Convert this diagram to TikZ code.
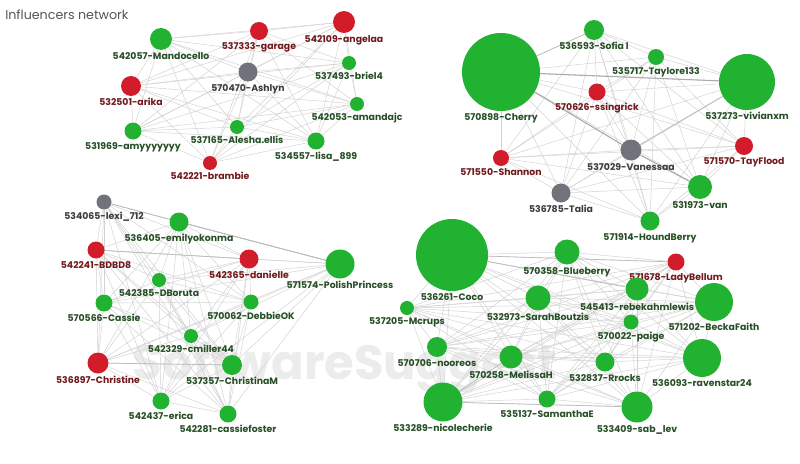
\documentclass[tikz,border=0pt]{standalone}
\usepackage{fontspec}
\setmainfont{Poppins}
\usetikzlibrary{backgrounds}
\definecolor{ngreen}{RGB}{33,178,50}
\definecolor{nred}{RGB}{210,28,42}
\definecolor{ngray}{RGB}{112,116,122}
\definecolor{tgreen}{RGB}{38,78,38}
\definecolor{tred}{RGB}{112,24,28}
\definecolor{tgray}{RGB}{58,60,64}
\definecolor{edgec}{RGB}{210,210,210}
\definecolor{edgedark}{RGB}{170,170,170}
\definecolor{titlec}{RGB}{85,85,85}
\definecolor{wmc}{RGB}{236,236,236}
\tikzset{
  vtx/.style={circle, inner sep=0pt, minimum size={1.5pt*#1}},
  gv/.style={vtx=#1, fill=ngreen},
  rv/.style={vtx=#1, fill=nred},
  kv/.style={vtx=#1, fill=ngray},
  lbl/.style={font=\fontsize{7}{8}\selectfont\bfseries, inner sep=0pt, text height=5pt, text depth=1.3pt},
  gl/.style={label={[lbl,text=tgreen,label distance=2pt]below:#1}},
  rl/.style={label={[lbl,text=tred,label distance=2pt]below:#1}},
  kl/.style={label={[lbl,text=tgray,label distance=2pt]below:#1}},
  edge/.style={draw=edgec, line width=0.35pt},
  strong/.style={draw=edgedark, line width=0.8pt},
  mid/.style={draw=edgedark!80!white, line width=0.5pt},
}
\newcommand\mkclique[1]{%
  \foreach \a [count=\i] in {#1}{%
    \foreach \b [count=\j] in {#1}{%
      \ifnum\j>\i \draw[edge] (\a) -- (\b);\fi
    }%
  }%
}
\begin{document}
\begin{tikzpicture}[x=0.75pt,y=-0.75pt]
\useasboundingbox (0,0) rectangle (800,464);
% title
\node[anchor=west, inner sep=0pt, text=titlec, font=\fontsize{9.5}{10}\selectfont] (title) at (5,15) {Influencers network};
% ---- top-left cluster
\node[rv=11, rl={542109-angelaa}] (n542109) at (344,22) {};
\node[rv=9, rl={537333-garage}] (n537333) at (259,31) {};
\node[gv=11, gl={542057-Mandocello}] (n542057) at (161,39) {};
\node[gv=7, gl={537493-briel4}] (n537493) at (349,63) {};
\node[kv=9.5, kl={570470-Ashlyn}] (n570470) at (248,72) {};
\node[rv=10, rl={532501-arika}] (n532501) at (131,86) {};
\node[gv=7, gl={542053-amandajc}] (n542053) at (357,104) {};
\node[gv=8.5, gl={531969-amyyyyyyy}] (n531969) at (133,131) {};
\node[gv=7, gl={537165-Alesha.ellis}] (n537165) at (237,127) {};
\node[gv=8.5, gl={534557-lisa\_899}] (n534557) at (316,141) {};
\node[rv=7, rl={542221-brambie}] (n542221) at (210,163) {};
% ---- top-right cluster
\node[gv=10, gl={536593-Sofia l}] (n536593) at (594,30) {};
\node[gv=8, gl={535717-Taylore133}] (n535717) at (656,57) {};
\node[gv=39, gl={570898-Cherry}] (n570898) at (501,72) {};
\node[gv=28, gl={537273-vivianxm}] (n537273) at (747,82) {};
\node[rv=8.5, rl={570626-ssingrick}] (n570626) at (597,92) {};
\node[rv=8, rl={571550-Shannon}] (n571550) at (501,158) {};
\node[kv=10.5, kl={537029-Vanessaa}] (n537029) at (631,150) {};
\node[rv=9, rl={571570-TayFlood}] (n571570) at (744,146) {};
\node[kv=9.5, kl={536785-Talia}] (n536785) at (561,193) {};
\node[gv=12, gl={531973-van}] (n531973) at (700,187) {};
\node[gv=9.5, gl={571914-HoundBerry}] (n571914) at (650,221) {};
% ---- bottom-left cluster
\node[kv=7.5, kl={534065-lexi\_712}] (n534065) at (104,202) {};
\node[gv=9.5, gl={536405-emilyokonma}] (n536405) at (179,222) {};
\node[rv=8.5, rl={542241-BDBD8}] (n542241) at (96,250) {};
\node[rv=9.5, rl={542365-danielle}] (n542365) at (249,259) {};
\node[gv=14.5, gl={571574-PolishPrincess}] (n571574) at (340,264) {};
\node[gv=7, gl={542385-DBoruta}] (n542385) at (159,280) {};
\node[gv=8.5, gl={570566-Cassie}] (n570566) at (104,303) {};
\node[gv=7.5, gl={570062-DebbieOK}] (n570062) at (251,302) {};
\node[gv=7, gl={542329-cmiller44}] (n542329) at (191,336) {};
\node[rv=10.5, rl={536897-Christine}] (n536897) at (98,363) {};
\node[gv=10, gl={537357-ChristinaM}] (n537357) at (232,365) {};
\node[gv=8.5, gl={542437-erica}] (n542437) at (161,401) {};
\node[gv=8.5, gl={542281-cassiefoster}] (n542281) at (228,414) {};
% ---- bottom-right cluster
\node[gv=36, gl={536261-Coco}] (n536261) at (452,255) {};
\node[gv=12.5, gl={570358-Blueberry}] (n570358) at (567,252) {};
\node[rv=8.5, rl={571678-LadyBellum}] (n571678) at (676,262) {};
\node[gv=11.5, gl={545413-rebekahmlewis}] (n545413) at (637,289) {};
\node[gv=19, gl={571202-BeckaFaith}] (n571202) at (714,302) {};
\node[gv=7, gl={537205-Mcrups}] (n537205) at (407,308) {};
\node[gv=12.5, gl={532973-SarahBoutzis}] (n532973) at (538,298) {};
\node[gv=7.5, gl={570022-paige}] (n570022) at (631,322) {};
\node[gv=10, gl={570706-nooreos}] (n570706) at (437,347) {};
\node[gv=11.5, gl={570258-MelissaH}] (n570258) at (511,357) {};
\node[gv=9.5, gl={532837-Rrocks}] (n532837) at (605,362) {};
\node[gv=19, gl={536093-ravenstar24}] (n536093) at (702,358) {};
\node[gv=19.5, gl={533289-nicolecherie}] (n533289) at (443,402) {};
\node[gv=8.5, gl={535137-SamanthaE}] (n535137) at (547,399) {};
\node[gv=15.5, gl={533409-sab\_lev}] (n533409) at (637,407) {};
% ---- edges
\begin{pgfonlayer}{background}
\fill[white] (0,0) rectangle (800,464);
\node[text=wmc, font=\fontsize{36}{38}\selectfont\bfseries, inner sep=0pt] (wm) at (345,367) {SoftwareSuggest};
\mkclique{n542109,n537333,n542057,n537493,n570470,n532501,n542053,n531969,n537165,n534557,n542221}
\mkclique{n536593,n535717,n570898,n537273,n570626,n571550,n537029,n571570,n536785,n531973,n571914}
\mkclique{n534065,n536405,n542241,n542365,n571574,n542385,n570566,n570062,n542329,n536897,n537357,n542437,n542281}
\mkclique{n536261,n570358,n571678,n545413,n571202,n537205,n532973,n570022,n570706,n570258,n532837,n536093,n533289,n535137,n533409}
\draw[strong] (n570898) -- (n537273);
\draw[strong] (n570898) -- (n537029);
\draw[strong] (n537029) -- (n531973);
\draw[mid] (n537029) -- (n537273);
\draw[mid] (n534065) -- (n571574);
\draw[mid] (n536405) -- (n571574);
\draw[mid] (n542241) -- (n542365);
\draw[mid] (n536897) -- (n537357);
\draw[mid] (n536261) -- (n571678);
\draw[mid] (n536261) -- (n545413);
\draw[mid] (n533289) -- (n533409);
\draw[mid] (n533289) -- (n570258);
\draw[mid] (n570898) -- (n536593);
\end{pgfonlayer}
\end{tikzpicture}
\end{document}
